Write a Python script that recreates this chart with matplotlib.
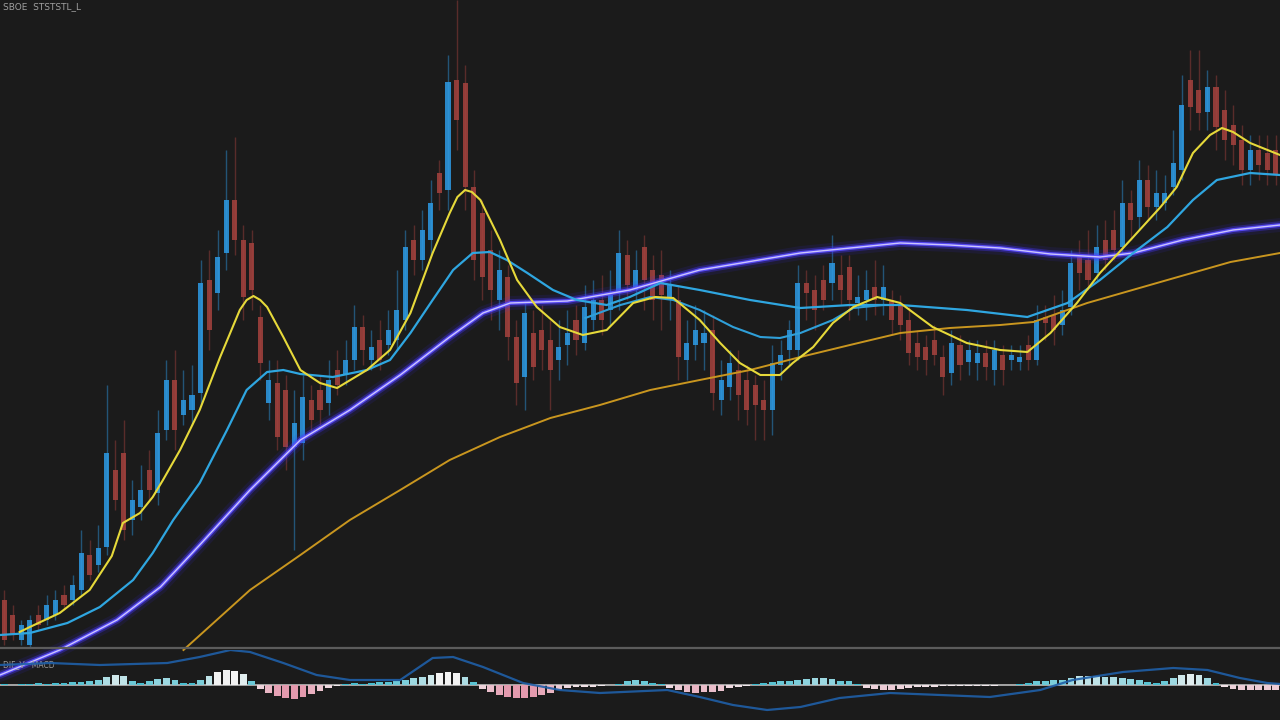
"""
Candlestick chart with moving averages and a MACD panel, dark theme.
"""
import numpy as np
import matplotlib.pyplot as plt
from matplotlib.colors import to_rgb

#candle prices (one entry per bar)
opens = [50, 35, 10, 5, 35, 30, 35, 55, 50, 60,
         95, 85, 103, 180, 197, 130, 143, 180, 157, 220,
         270, 235, 240, 257, 370, 357, 397, 450, 410, 407,
         333, 247, 267, 260, 203, 207, 250, 260, 247, 280,
         275, 290, 323, 290, 310, 305, 310, 330, 410, 390,
         410, 477, 460, 570, 567, 463, 437, 400, 350, 373,
         313, 273, 317, 320, 310, 290, 305, 330, 307, 330,
         350, 340, 357, 395, 360, 403, 380, 375, 350, 350,
         290, 305, 307, 320, 250, 263, 280, 270, 265, 250,
         240, 285, 300, 300, 367, 360, 370, 367, 375, 383,
         347, 350, 363, 350, 350, 345, 330, 307, 303, 310,
         293, 277, 305, 288, 287, 297, 280, 295, 290, 288,
         305, 290, 333, 335, 325, 343, 393, 390, 377, 410,
         420, 403, 447, 433, 470, 443, 447, 463, 480, 570,
         560, 538, 563, 540, 525, 510, 480, 500, 497, 500]
closes = [10, 15, 25, 30, 25, 45, 50, 45, 65, 97,
          75, 102, 197, 150, 120, 150, 160, 160, 217, 270,
          220, 250, 255, 367, 320, 393, 450, 410, 353, 360,
          287, 270, 213, 203, 227, 253, 230, 240, 270, 265,
          290, 323, 300, 303, 290, 320, 340, 403, 390, 420,
          447, 457, 568, 530, 463, 390, 373, 360, 380, 313,
          267, 337, 283, 300, 280, 303, 317, 310, 343, 350,
          330, 355, 397, 365, 380, 370, 350, 355, 365, 293,
          307, 320, 317, 257, 270, 287, 255, 240, 245, 240,
          287, 295, 320, 367, 357, 340, 350, 387, 360, 350,
          353, 360, 350, 363, 330, 325, 297, 293, 290, 295,
          273, 307, 285, 300, 297, 283, 300, 280, 295, 293,
          290, 330, 327, 320, 340, 387, 377, 370, 403, 390,
          400, 447, 430, 470, 443, 457, 457, 487, 545, 543,
          537, 563, 523, 510, 505, 480, 500, 485, 480, 475]
highs = [60, 45, 30, 35, 45, 55, 60, 65, 75, 120,
         110, 125, 265, 210, 230, 170, 185, 200, 240, 290,
         300, 280, 285, 390, 400, 420, 500, 513, 425, 420,
         345, 290, 290, 275, 260, 275, 265, 275, 290, 300,
         310, 345, 335, 320, 330, 340, 380, 420, 425, 440,
         470, 490, 595, 650, 585, 480, 450, 420, 400, 385,
         330, 350, 340, 345, 330, 330, 340, 345, 365, 370,
         375, 380, 420, 410, 400, 415, 395, 400, 380, 365,
         330, 345, 340, 335, 290, 300, 300, 285, 275, 270,
         305, 310, 330, 385, 380, 375, 385, 415, 395, 395,
         375, 380, 390, 385, 360, 355, 345, 320, 315, 325,
         305, 320, 315, 310, 310, 310, 310, 305, 305, 305,
         315, 345, 345, 355, 360, 400, 410, 420, 425, 430,
         440, 470, 460, 490, 485, 480, 475, 520, 575, 600,
         600, 580, 575, 560, 545, 525, 515, 515, 515, 515]
lows = [5, 10, 5, 2, 20, 25, 30, 40, 45, 55,
        70, 78, 95, 140, 110, 115, 130, 150, 145, 210,
        200, 225, 225, 245, 300, 340, 380, 395, 330, 340,
        270, 230, 200, 180, 100, 190, 215, 225, 235, 255,
        265, 280, 285, 280, 280, 295, 300, 320, 375, 380,
        395, 440, 440, 500, 440, 370, 350, 330, 320, 290,
        245, 240, 270, 280, 240, 270, 285, 295, 300, 320,
        315, 325, 340, 350, 350, 340, 330, 320, 330, 270,
        270, 290, 280, 240, 235, 250, 230, 225, 210, 210,
        215, 270, 285, 290, 330, 320, 340, 350, 345, 330,
        335, 330, 335, 335, 315, 310, 285, 280, 275, 285,
        255, 265, 270, 275, 270, 270, 265, 265, 280, 280,
        280, 285, 310, 305, 315, 335, 360, 360, 370, 380,
        390, 395, 410, 420, 430, 430, 440, 455, 470, 520,
        520, 520, 500, 490, 485, 465, 465, 470, 465, 465]

#moving averages: (bar position, value)
ma_fast_t = [1.8, 3.0, 6.5, 10.0, 12.6, 13.9, 15.9, 17.4, 18.6, 20.6, 22.9, 25.3, 27.6,
             28.4, 29.2, 30.0, 30.8, 32.7, 34.7, 37.0, 39.0, 42.5, 45.2, 47.6, 50.2,
             52.2, 53.1, 54.0, 54.8, 55.8, 58.1, 60.1, 62.4, 65.1, 67.8, 70.6, 73.7,
             76.3, 78.4, 81.5, 83.9, 86.2, 88.6, 90.9, 92.4, 94.8, 97.1, 99.5, 102.3,
             105.0, 108.8, 112.8, 116.7, 119.9, 122.6, 125.7, 128.4, 132.3, 135.5,
             137.4, 139.3, 141.3, 142.7, 144.0, 146.0, 149.5]
ma_fast_v = [18, 23, 37, 60, 94, 127, 137, 153, 170, 200, 240, 293, 340,
             350, 354, 350, 343, 313, 280, 267, 262, 280, 300, 337, 397,
             437, 453, 460, 458, 450, 410, 370, 343, 323, 315, 320, 347,
             353, 352, 330, 307, 287, 275, 275, 287, 303, 327, 343, 353,
             347, 323, 307, 300, 298, 317, 347, 377, 413, 443,
             463, 497, 515, 522, 518, 507, 495]

ma_mid_t = [-0.5, 3.0, 7.4, 11.2, 15.1, 17.4, 19.8, 22.9, 26.1, 28.4, 30.8, 32.7, 34.7,
            38.5, 42.5, 45.2, 47.6, 50.2, 52.6, 54.9, 56.9, 58.9, 61.3, 64.3, 67.1,
            70.6, 73.3, 76.9, 81.5, 87.4, 93.3, 99.1, 105.0, 112.8, 119.9, 124.6,
            128.4, 132.3, 136.3, 139.3, 142.1, 146.0, 149.5]
ma_mid_v = [15, 17, 27, 43, 70, 97, 130, 167, 220, 260, 278, 280, 276,
            273, 280, 290, 317, 350, 380, 397, 398, 390, 377, 360, 350,
            345, 353, 367, 360, 350, 342, 345, 345, 340, 333, 347,
            370, 397, 423, 450, 470, 477, 475]

ma_mid2_t = [68.1, 72.2, 75.7, 78.4, 81.5, 85.4, 88.6, 90.9, 93.3, 97.1, 99.5, 103.0]
ma_mid2_v = [332, 345, 353, 350, 340, 323, 313, 312, 317, 330, 342, 345]

ma_slow_t = [-0.5, 6.5, 13.2, 18.3, 22.9, 28.8, 34.7, 40.5, 46.4, 52.2, 56.1, 59.3,
             66.0, 73.3, 81.5, 93.3, 105.0, 110.8, 116.7, 122.6, 128.4, 132.3,
             138.1, 144.0, 149.5]
ma_slow_v = [-25, 0, 30, 63, 105, 160, 210, 240, 275, 313, 337, 347,
             349, 360, 380, 397, 407, 405, 402, 396, 393, 397,
             410, 420, 425]

ma_long_t = [21.0, 28.8, 34.7, 40.5, 46.4, 52.2, 58.1, 64.0, 69.8, 75.7, 81.5, 87.4,
             93.3, 99.1, 105.0, 110.8, 116.7, 120.6, 126.9, 136.3, 143.7, 149.5]
ma_long_v = [0, 60, 95, 130, 160, 190, 213, 232, 245, 260, 270, 280,
             293, 305, 317, 322, 325, 328, 347, 370, 388, 397]

#MACD histogram (one per bar) and signal line
macd_hist = [1, 0, 1, 1, 2, 1, 2, 2, 3, 3,
             4, 5, 8, 10, 9, 4, 2, 4, 6, 7,
             5, 2, 2, 5, 9, 13, 15, 14, 11, 4,
             -4, -8, -11, -13, -14, -12, -9, -6, -3, -1,
             1, 2, 1, 2, 3, 3, 4, 5, 7, 8,
             10, 12, 13, 12, 8, 3, -4, -7, -10, -12,
             -13, -13, -12, -10, -8, -5, -3, -2, -2, -2,
             -1, 0, 1, 4, 5, 4, 2, 1, -3, -5,
             -7, -8, -7, -7, -6, -3, -2, -1, 1, 2,
             3, 4, 4, 5, 6, 7, 7, 6, 4, 4,
             1, -3, -4, -5, -5, -4, -3, -2, -2, -2,
             -1, -1, -1, -1, -1, -1, -1, 0, 0, 1,
             2, 4, 4, 5, 5, 7, 9, 9, 9, 8,
             8, 7, 6, 5, 3, 2, 4, 7, 10, 11,
             10, 7, 2, -2, -4, -5, -5, -5, -5, -5]
signal_t = [-0.5, 5.4, 11.2, 19.1, 22.9, 26.5, 28.8, 32.7, 36.6, 40.5, 46.4, 50.2,
            52.6, 56.1, 60.8, 65.1, 69.8, 77.7, 81.5, 85.4, 89.4, 93.3, 97.9,
            103.8, 109.7, 115.5, 121.4, 125.2, 131.1, 137.0, 141.0, 144.8, 148.0, 149.5]
signal_v = [20, 22, 20, 22, 28, 35, 33, 22, 10, 5, 5, 27,
            28, 18, 2, -5, -8, -5, -12, -20, -25, -22, -13,
            -8, -10, -12, -5, 5, 13, 17, 15, 7, 2, 1]

BG = '#1b1b1b'
UP = '#2d9be6'
DOWN = '#a5423e'

#blend two colours, t in [0, 1]
def blend(c1, c2, t):
    a, b = np.array(to_rgb(c1)), np.array(to_rgb(c2))
    return tuple(a + (b - a) * t)

fig = plt.figure(figsize=(12.8, 7.2), dpi=100, facecolor=BG)
ax = fig.add_axes([0, 0, 1, 1])
ax.set_facecolor('none')
ax.set_xlim(-0.5, 149.5)
ax.set_ylim(-70, 650)
ax.axis('off')

#candles
x = np.arange(len(opens))
o, c = np.array(opens), np.array(closes)
colors = [UP if cc >= oo else DOWN for oo, cc in zip(o, c)]
ax.vlines(x, lows, highs, colors=colors, linewidth=1.0, alpha=0.45, zorder=2)
ax.bar(x, np.abs(c - o), bottom=np.minimum(o, c), width=0.6, color=colors,
       alpha=0.85, linewidth=0, zorder=3)

#slow average with a glow
for lw, col, al in [(10, '#3a2cff', 0.10), (5.5, '#4433ff', 0.35), (2.8, '#5a4cff', 0.9), (1, '#d9d4ff', 0.9)]:
    ax.plot(ma_slow_t, ma_slow_v, color=col, linewidth=lw, alpha=al, zorder=5,
            solid_capstyle='round', solid_joinstyle='round')
ax.plot(ma_long_t, ma_long_v, color='#c9961f', linewidth=1.4, zorder=4)
ax.plot(ma_mid_t, ma_mid_v, color='#2fa6e0', linewidth=1.6, zorder=6,
        solid_joinstyle='round')
ax.plot(ma_mid2_t, ma_mid2_v, color='#2f9fd8', linewidth=1.5, zorder=6,
        solid_joinstyle='round')
ax.plot(ma_fast_t, ma_fast_v, color='#e6d93a', linewidth=1.5, zorder=7,
        solid_joinstyle='round')

#separator between price and MACD panels
ax.axhline(2, color='#5c5c5c', linewidth=1.6, zorder=8)
ax.text(0.002, 0.997, 'SBOE  STSTSTL_L', transform=ax.transAxes, ha='left', va='top',
        fontsize=6.5, color='#a0a0a0')

#MACD panel
axm = fig.add_axes([0, 0, 1, 70 / 720])
axm.set_facecolor('none')
axm.set_xlim(-0.5, 149.5)
axm.set_ylim(-35, 35)
axm.axis('off')
h = np.array(macd_hist)
hcols = [blend('#27b4c9', '#f2f2f2', min(v / 12, 1)) if v >= 0
         else blend('#f2eef0', '#e49aae', min(-v / 12, 1)) for v in h]
axm.bar(x, h, width=0.8, color=hcols, linewidth=0, zorder=3)
axm.axhline(0, color='#bdbdbd', linewidth=1.2, zorder=2)
axm.plot(signal_t, signal_v, color='#1f5fa8', linewidth=1.6, alpha=0.9, zorder=4)
axm.text(0.002, 0.86, 'DIF_V  ·MACD', transform=axm.transAxes, ha='left', va='top',
         fontsize=5.5, color='#9a9a9a')

fig.savefig('out.png', dpi=100, facecolor=BG)
